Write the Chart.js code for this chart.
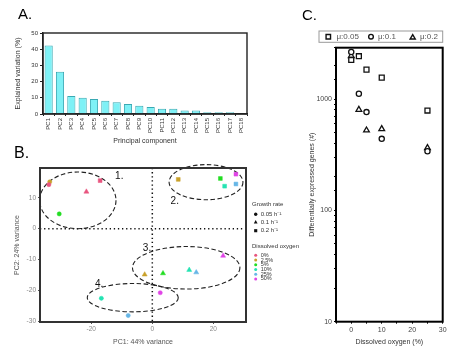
<!DOCTYPE html>
<html><head><meta charset="utf-8">
<script src="https://cdn.jsdelivr.net/npm/chart.js@4/dist/chart.umd.min.js"></script>
<style>
html,body{margin:0;padding:0;background:#fff;}
#wrap{position:relative;width:474px;height:355px;overflow:hidden;font-family:"Liberation Sans",Arial,sans-serif;background:#fff;}
canvas{position:absolute;left:0;top:0;}
.lbl{position:absolute;font-size:15px;line-height:15px;color:#000;}
</style></head><body>
<div id="wrap">
<canvas id="cA" width="474" height="355"></canvas>
<canvas id="cB" width="474" height="355"></canvas>
<canvas id="cC" width="474" height="355"></canvas>
<div class="lbl" style="left:18px;top:6px">A.</div>
<div class="lbl" style="left:14px;top:145px;font-size:16px;line-height:16px">B.</div>
<div class="lbl" style="left:302px;top:7px">C.</div>
</div>
<script>
// ---------- data: panel A ----------
const pcLabels = ['PC1','PC2','PC3','PC4','PC5','PC6','PC7','PC8','PC9','PC10','PC11','PC12','PC13','PC14','PC15','PC16','PC17','PC18'];
const pcVariance = [42.3, 26.1, 11.1, 10.1, 9.2, 8.2, 7.2, 6.2, 5.1, 4.3, 3.3, 3.3, 2.2, 2.2, 1.1, 1.1, 1.1, 0.3];

// ---------- data: panel B ----------
const pcaPC1 = [-33.6, -33.9, -17.1, -21.6, -30.5, 8.5, 22.3, 23.7, 27.4, 27.4, 23.2, -2.5, 3.5, 12.1, 14.4, 2.6, -16.7, -7.9];
const pcaPC2 = [15.2, 14.3, 15.6, 12.0, 4.8, 16.0, 16.3, 13.8, 17.7, 14.5, -8.8, -14.9, -14.5, -13.4, -14.2, -20.8, -22.6, -28.2];
const pcaGrowth = [0.05, 0.05, 0.2, 0.1, 0.05, 0.2, 0.2, 0.2, 0.2, 0.2, 0.1, 0.1, 0.1, 0.1, 0.1, 0.05, 0.05, 0.05];
const pcaOxygen = [2.5, 0, 0, 0, 5, 2.5, 5, 10, 50, 25, 50, 2.5, 5, 10, 25, 50, 10, 25];
const pcaXTicks = [-20, 0, 20];
const pcaYTicks = [-30, -20, -10, 0, 10];
const growthRates = [0.05, 0.1, 0.2];
const growthLabels = ['0.05 h\u207B\u00B9', '0.1 h\u207B\u00B9', '0.2 h\u207B\u00B9'];
const oxygenLevels = [0, 2.5, 5, 10, 25, 50];
const oxygenLabels = ['0%', '2.5%', '5%', '10%', '25%', '50%'];
const clusterNames = ['1.', '2.', '3.', '4.'];
const clusterCenterX = [-24.4, 17.6, 11.1, -6.4];
const clusterCenterY = [9.2, 15.1, -12.7, -22.4];
const clusterRadiusX = [12.5, 12.1, 17.6, 14.9];
const clusterRadiusY = [9.2, 5.7, 6.9, 4.6];
const clusterLabelX = [-12.2, 6.0, -3.1, -18.8];
const clusterLabelY = [16.9, 9.0, -6.5, -18.2];

// ---------- data: panel C ----------
const doPercent = [0, 2.5, 5, 10, 25];
const degMu005 = [2250, 2430, 1845, 1560, 790];
const degMu01 = [2650, 1120, 765, 440, 340];
const degMu02 = [2450, 805, 525, 540, 365];
const degSeriesNames = ['\u03BC:0.05', '\u03BC:0.1', '\u03BC:0.2'];

// ---------- styles ----------
Chart.defaults.font.family = '"Liberation Sans", Arial, sans-serif';
Chart.defaults.animation = false;
const growthShape = {0.05: 'circle', 0.1: 'triangle', 0.2: 'rect'};
const growthRadius = {0.05: 2.1, 0.1: 2.9, 0.2: 2.7};
const oxygenColor = {0: '#e8557f', 2.5: '#c9a12a', 5: '#22dd22', 10: '#25e3b3', 25: '#67b6e6', 50: '#e045e6'};

function drawShape(ctx, style, x, y, r, fill, stroke, lw) {
  ctx.beginPath();
  if (style === 'circle') {
    ctx.arc(x, y, r, 0, Math.PI * 2);
  } else if (style === 'rect') {
    const s = r * Math.SQRT1_2;
    ctx.rect(x - s, y - s, 2 * s, 2 * s);
  } else {
    let a = 0;
    ctx.moveTo(x + Math.sin(a) * r, y - Math.cos(a) * r);
    a += 2 * Math.PI / 3;
    ctx.lineTo(x + Math.sin(a) * r, y - Math.cos(a) * r);
    a += 2 * Math.PI / 3;
    ctx.lineTo(x + Math.sin(a) * r, y - Math.cos(a) * r);
    ctx.closePath();
  }
  if (fill) { ctx.fillStyle = fill; ctx.fill(); }
  if (stroke && lw > 0) { ctx.lineWidth = lw; ctx.strokeStyle = stroke; ctx.stroke(); }
}

// ================= Panel A =================
const frameA = {
  id: 'frameA',
  afterDraw(c) {
    const a = c.chartArea, ctx = c.ctx;
    ctx.save();
    ctx.strokeStyle = '#222'; ctx.lineWidth = 1.4;
    ctx.strokeRect(a.left, a.top, a.right - a.left, a.bottom - a.top);
    ctx.restore();
  }
};
new Chart(document.getElementById('cA'), {
  type: 'bar',
  data: {
    labels: pcLabels,
    datasets: [{
      data: pcVariance,
      backgroundColor: '#7ef1f6',
      borderColor: '#3aa9b3',
      borderWidth: 1,
      barPercentage: 0.8,
      categoryPercentage: 0.9
    }]
  },
  options: {
    responsive: false,
    layout: {padding: {left: 13, top: 33, right: 227, bottom: 209}},
    plugins: {legend: {display: false}, tooltip: {enabled: false}},
    scales: {
      x: {
        grid: {display: true, drawOnChartArea: false, tickLength: 2, color: '#222'},
        border: {display: true, color: '#222', width: 1.4},
        ticks: {font: {size: 6}, color: '#333', minRotation: 90, maxRotation: 90, autoSkip: false, padding: 2},
        title: {display: true, text: 'Principal component', font: {size: 7}, color: '#333', padding: {top: 0, bottom: 1}},
        afterFit(s) { s.height = 32; }
      },
      y: {
        min: 0, max: 50,
        grid: {display: true, drawOnChartArea: false, tickLength: 3, color: '#222'},
        border: {display: true, color: '#222', width: 1.4},
        ticks: {stepSize: 10, font: {size: 6}, color: '#333', padding: 2},
        title: {display: true, text: 'Explained variation (%)', font: {size: 7}, color: '#333', padding: {top: 1, bottom: 0}},
        afterFit(s) { s.width = 30; }
      }
    }
  },
  plugins: [frameA]
});

// ================= Panel B =================
const pcaDatasets = growthRates.map(g => {
  const idx = pcaPC1.map((v, i) => i).filter(i => pcaGrowth[i] === g);
  return {
    label: String(g),
    data: idx.map(i => ({x: pcaPC1[i], y: pcaPC2[i]})),
    pointStyle: growthShape[g],
    pointRadius: growthRadius[g],
    pointBackgroundColor: idx.map(i => oxygenColor[pcaOxygen[i]]),
    pointBorderColor: idx.map(i => oxygenColor[pcaOxygen[i]]),
    pointBorderWidth: 0.5
  };
});
const decorB = {
  id: 'decorB',
  beforeDatasetsDraw(c) {
    const ctx = c.ctx, a = c.chartArea, xs = c.scales.x, ys = c.scales.y;
    ctx.save();
    // dotted zero lines
    ctx.strokeStyle = '#111'; ctx.lineWidth = 1.5; ctx.setLineDash([1.3, 2.8]);
    const x0 = xs.getPixelForValue(0), y0 = ys.getPixelForValue(0);
    ctx.beginPath(); ctx.moveTo(x0, a.top); ctx.lineTo(x0, a.bottom); ctx.stroke();
    ctx.beginPath(); ctx.moveTo(a.left, y0); ctx.lineTo(a.right, y0); ctx.stroke();
    // cluster ellipses
    ctx.setLineDash([4.5, 2.5]); ctx.lineWidth = 1.1; ctx.strokeStyle = '#222';
    clusterNames.forEach((n, i) => {
      const cx = xs.getPixelForValue(clusterCenterX[i]);
      const cy = ys.getPixelForValue(clusterCenterY[i]);
      const rx = Math.abs(xs.getPixelForValue(clusterCenterX[i] + clusterRadiusX[i]) - cx);
      const ry = Math.abs(ys.getPixelForValue(clusterCenterY[i] + clusterRadiusY[i]) - cy);
      ctx.beginPath(); ctx.ellipse(cx, cy, rx, ry, 0, 0, Math.PI * 2); ctx.stroke();
    });
    ctx.setLineDash([]);
    ctx.fillStyle = '#111'; ctx.font = '10px "Liberation Sans", Arial, sans-serif';
    ctx.textAlign = 'left'; ctx.textBaseline = 'middle';
    clusterNames.forEach((n, i) => {
      ctx.fillText(n, xs.getPixelForValue(clusterLabelX[i]), ys.getPixelForValue(clusterLabelY[i]));
    });
    ctx.restore();
  },
  afterDraw(c) {
    const ctx = c.ctx, a = c.chartArea;
    ctx.save();
    ctx.strokeStyle = '#333'; ctx.lineWidth = 2;
    ctx.strokeRect(a.left, a.top, a.right - a.left, a.bottom - a.top);
    // legend
    const lx = a.right + 6, mx = a.right + 9.7, tx = a.right + 14.7;
    ctx.fillStyle = '#333'; ctx.textAlign = 'left'; ctx.textBaseline = 'middle';
    ctx.font = '6px "Liberation Sans", Arial, sans-serif';
    ctx.fillText('Growth rate', lx, a.top + 36);
    const gy = [46.3, 54.3, 62.7];
    growthRates.forEach((g, i) => {
      drawShape(ctx, growthShape[g], mx, a.top + gy[i], g === 0.05 ? 1.7 : 2.2, '#111', null, 0);
      ctx.fillStyle = '#333';
      ctx.fillText(growthLabels[i], tx, a.top + gy[i]);
    });
    ctx.fillText('Dissolved oxygen', lx, a.top + 78.3);
    ctx.font = '5.5px "Liberation Sans", Arial, sans-serif';
    oxygenLevels.forEach((o, i) => {
      const y = a.top + 87.3 + 4.73 * i;
      drawShape(ctx, 'circle', mx, y, 1.5, oxygenColor[o], null, 0);
      ctx.fillStyle = '#333';
      ctx.fillText(oxygenLabels[i], tx, y);
    });
    ctx.restore();
  }
};
new Chart(document.getElementById('cB'), {
  type: 'scatter',
  data: {datasets: pcaDatasets},
  options: {
    responsive: false,
    layout: {padding: {left: 12, top: 168, right: 228, bottom: 7}},
    plugins: {legend: {display: false}, tooltip: {enabled: false}},
    scales: {
      x: {
        min: -36.8, max: 30.7,
        afterBuildTicks(s) { s.ticks = pcaXTicks.map(v => ({value: v})); },
        grid: {display: true, drawOnChartArea: false, tickLength: 2, color: '#555'},
        border: {display: false},
        ticks: {font: {size: 6.5}, color: '#888', padding: 1},
        title: {display: true, text: 'PC1: 44% variance', font: {size: 7}, color: '#555', padding: {top: 0, bottom: 1.5}},
        afterFit(s) { s.height = 26; }
      },
      y: {
        min: -30.3, max: 19.7,
        afterBuildTicks(s) { s.ticks = pcaYTicks.map(v => ({value: v})); },
        grid: {display: true, drawOnChartArea: false, tickLength: 2, color: '#555'},
        border: {display: false},
        ticks: {font: {size: 6.5}, color: '#888', padding: 2},
        title: {display: true, text: 'PC2: 24% variance', font: {size: 7}, color: '#555', padding: {top: 1, bottom: 0}},
        afterFit(s) { s.width = 28; }
      }
    }
  },
  plugins: [decorB]
});

// ================= Panel C =================
const degShapes = ['rect', 'circle', 'triangle'];
const degRadius = [3.5, 2.6, 3.3];
const degValues = [degMu005, degMu01, degMu02];
const decorC = {
  id: 'decorC',
  afterDraw(c) {
    const ctx = c.ctx, a = c.chartArea;
    ctx.save();
    ctx.strokeStyle = '#000'; ctx.lineWidth = 2;
    ctx.strokeRect(a.left, a.top, a.right - a.left, a.bottom - a.top);
    // legend box
    const bx = a.left - 17, by = a.top - 16.7, bw = a.right - bx, bh = 11.3;
    ctx.strokeStyle = '#999'; ctx.lineWidth = 1;
    ctx.strokeRect(bx, by, bw, bh);
    const cy = a.top - 11;
    const mxs = [a.left - 7.7, a.left + 35, a.left + 76.7];
    const txs = [a.left + 0.5, a.left + 42, a.left + 84];
    ctx.font = '8px "Liberation Sans", Arial, sans-serif';
    ctx.textAlign = 'left'; ctx.textBaseline = 'middle';
    degSeriesNames.forEach((n, i) => {
      drawShape(ctx, degShapes[i], mxs[i], cy + (degShapes[i] === 'triangle' ? 0.8 : 0), degRadius[i] * 0.9, '#fff', '#111', 1.4);
      ctx.fillStyle = '#555';
      ctx.fillText(n, txs[i], cy);
    });
    ctx.restore();
  }
};
new Chart(document.getElementById('cC'), {
  type: 'scatter',
  data: {
    datasets: degSeriesNames.map((n, i) => ({
      label: n,
      data: doPercent.map((x, j) => ({x: x, y: degValues[i][j]})),
      pointStyle: degShapes[i],
      pointRadius: degRadius[i],
      pointBackgroundColor: '#fff',
      pointBorderColor: '#111',
      pointBorderWidth: 1.3
    }))
  },
  options: {
    responsive: false,
    layout: {padding: {left: 306.5, top: 47.7, right: 31.3, bottom: 7.3}},
    plugins: {legend: {display: false}, tooltip: {enabled: false}},
    scales: {
      x: {
        min: -5, max: 30,
        grid: {display: true, drawOnChartArea: false, tickLength: 2, color: '#000'},
        border: {display: false},
        ticks: {stepSize: 5, autoSkip: false, font: {size: 7}, color: '#444', padding: 2,
          callback: v => (v % 10 === 0 ? v : '')},
        title: {display: true, text: 'Dissolved oxygen (%)', font: {size: 7}, color: '#333', padding: {top: 0, bottom: 1.2}},
        afterFit(s) { s.height = 26; }
      },
      y: {
        type: 'logarithmic',
        min: 10, max: 2900,
        grid: {display: true, drawOnChartArea: false, tickLength: 2, color: '#000'},
        border: {display: false},
        ticks: {autoSkip: false, font: {size: 7}, color: '#444', padding: 2,
          callback: v => ([10, 100, 1000].includes(v) ? String(v) : '')},
        title: {display: true, text: 'Differentially expressed genes (#)', font: {size: 7}, color: '#333', padding: {top: 1, bottom: 0}},
        afterFit(s) { s.width = 29.5; }
      }
    }
  },
  plugins: [decorC]
});
</script>
</body></html>
